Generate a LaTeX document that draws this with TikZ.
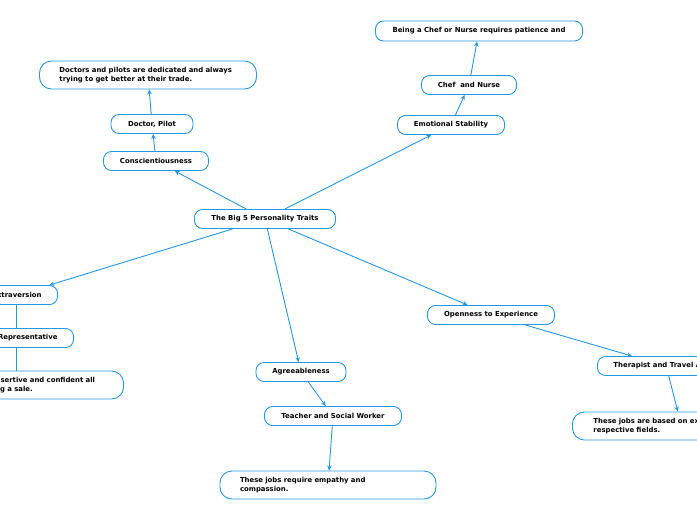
\documentclass[tikz,border=0pt]{standalone}
\usepackage{fontspec}
\setmainfont{DejaVu Sans}
\usetikzlibrary{arrows.meta, positioning}
\definecolor{mapblue}{RGB}{38,152,226}

\begin{document}
\begin{tikzpicture}
      [ x=1pt, y=-1pt
      , topic/.style={draw=mapblue, fill=white, rounded corners=8pt, line width=0.9pt,
                      font=\fontsize{6.9}{8.5}\selectfont\bfseries,
                      minimum height=19pt, inner ysep=2pt}
      , note/.style={topic, align=left, minimum height=28pt,
                     inner xsep=20pt, rounded corners=12pt}
      , link/.style={mapblue, line width=0.9pt}
      , branch/.style={link, -{Stealth[length=5pt,width=4.5pt]}}
      ]
    \useasboundingbox (0,0) rectangle (697,520);
    \clip (0,0) rectangle (697,520);

    \node[topic, minimum width=141pt] (B5) at (265,219) {The Big 5 Personality Traits};

    \node[topic, minimum width=105pt] (CO) at (156,161) {Conscientiousness};
    \node[topic, minimum width=82pt]  (DP) at (152,124) {Doctor, Pilot};
    \node[note, text width=177pt]     (DPn) at (148,75)
      {Doctors and pilots are dedicated and always\\trying to get better at their trade.};

    \node[topic, minimum width=107pt] (ES) at (451,125) {Emotional Stability};
    \node[topic, minimum width=95pt]  (CN) at (469,85) {Chef\ \ and Nurse};
    \node[topic, minimum width=207pt, minimum height=20pt] (CNn) at (479,31)
      {Being a Chef or Nurse requires patience and};

    \node[topic, anchor=east, inner xsep=16pt] (EX) at (58,295) {Extraversion};
    \node[topic, anchor=east, inner xsep=16pt] (SR) at (74,338) {Sales Representative};
    \node[note, anchor=east, text width=124pt] (SRn) at (124,385)
      {Be assertive and confident all\\during a sale.};

    \node[topic, minimum width=90pt]  (AG) at (301,372) {Agreeableness};
    \node[topic, minimum width=137pt] (TS) at (333,416) {Teacher and Social Worker};
    \node[note, text width=176pt]     (TSn) at (328,485)
      {These jobs require empathy and\\compassion.};

    \node[topic, anchor=west, inner xsep=16pt] (TT) at (597,366) {Therapist and Travel Agent};
    \node[topic, minimum width=127pt] (OP) at (491,315) {Openness to Experience};
    \node[note, anchor=west, inner xsep=21pt, text width=176pt] (TTn) at (572,426)
      {These jobs are based on exploring\\respective fields.};

    % branches from the centre
    \draw[branch] (B5) -- (CO);
    \draw[branch] (B5) -- (ES);
    \draw[branch] (B5) -- (EX);
    \draw[branch] (B5) -- (AG);
    \draw[branch] (B5) -- (OP);

    % sub-branches
    \draw[branch] (CO) -- (DP);
    \draw[branch] (DP) -- (DPn);
    \draw[branch] (ES) -- (CN);
    \draw[branch] (CN) -- (CNn);
    \draw[branch] (AG) -- (TS);
    \draw[branch] (TS) -- (TSn);
    \draw[branch] (OP) -- (TT);
    \draw[branch] (TT) -- (TTn);

    \draw[link] (16,304) coordinate (e1) -- (16,328) coordinate (s1);
    \draw[link] (16,347) coordinate (s2) -- (16,371) coordinate (n1);
\end{tikzpicture}
\end{document}
